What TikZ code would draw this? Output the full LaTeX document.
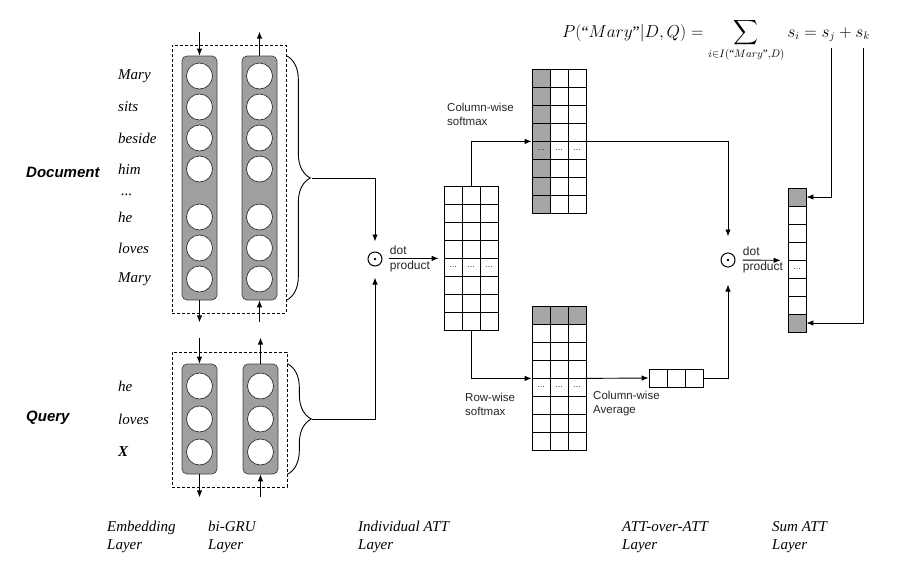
\documentclass[tikz,border=0pt]{standalone}
\usepackage{amsmath}
\usepackage{fontspec}
\setmainfont{Liberation Serif}
\setsansfont{Liberation Sans}
\usetikzlibrary{positioning,arrows.meta,calc,decorations.pathreplacing}
\tikzstyle{word}=[anchor=west, inner sep=0pt, font=\fontsize{15}{18}\selectfont\itshape]
\tikzstyle{side}=[anchor=west, inner sep=0pt, font=\fontsize{15}{18}\selectfont\sffamily\bfseries\itshape]
\tikzstyle{laylabel}=[anchor=west, align=left, inner sep=0pt, font=\fontsize{15}{18}\selectfont\itshape]
\tikzstyle{ptext}=[anchor=west, align=left, inner sep=0pt, text=black!85,
                   font=\fontsize{11.5}{14}\selectfont\sffamily]
\tikzstyle{dbox}=[rectangle, draw=black, dash pattern=on 3pt off 2pt, line width=0.7pt]
\tikzstyle{gbar}=[rectangle, rounded corners=5pt, draw=black!75, fill=gray!75,
                  minimum width=35pt, line width=0.7pt]
\tikzstyle{gunit}=[circle, draw=black!80, fill=white, minimum size=26pt, inner sep=0pt, line width=0.7pt]
\tikzstyle{cell}=[rectangle, draw=black, minimum width=18pt, minimum height=18pt,
                  inner sep=0pt, line width=0.8pt]
\tikzstyle{dots}=[inner sep=0pt, text=black!80, font=\fontsize{9}{10}\selectfont\sffamily]
\tikzstyle{odotn}=[circle, draw=black, minimum size=14pt, inner sep=0pt, line width=1pt,
                   path picture={\fill (path picture bounding box.center) circle (1.3pt);}]
\tikzstyle{pline}=[line width=0.9pt, >={Latex[length=7pt,width=5.5pt]}]
\tikzstyle{gbrace}=[decorate, decoration={brace, amplitude=24pt}, line width=0.9pt]

\begin{document}
\begin{tikzpicture}[x=1pt, y=-1pt]
\useasboundingbox (0,0) rectangle (911,584);

% document encoder
\node (dbox) [dbox, minimum width=114pt, minimum height=268pt] at (229,179) {};
\node (dL) [gbar, minimum height=244pt] at (199.5,178) {};
\node (dR) [gbar, minimum height=244pt] at (259.5,178) {};
\foreach \w/\y in {Mary/76,sits/107,beside/138,him/169,he/217,loves/248,Mary/279}{
  \node (dLu\y) [gunit] at (199.5,\y) {};
  \node (dRu\y) [gunit] at (259.5,\y) {};
  \node (dw\y) [word] at (118,\y) {\w};
}
\node (ddots) [word] at (121,195) {...};
\node (doc) [side] at (26,172) {Document};
\draw[pline,<-] (dL.north) -- ++(0,-24);
\draw[pline,->] (dR.north) -- ++(0,-24);
\draw[pline,->] (dL.south) -- ++(0,22);
\draw[pline,<-] (dR.south) -- ++(0,22);

% query encoder
\node (qbox) [dbox, minimum width=115pt, minimum height=135pt] at (229.5,419.5) {};
\node (qL) [gbar, minimum height=110pt] at (199.5,419) {};
\node (qR) [gbar, minimum height=110pt] at (260.5,419) {};
\foreach \w/\y in {he/386,loves/419,\textbf{X}/452}{
  \node (qLu\y) [gunit] at (199.5,\y) {};
  \node (qRu\y) [gunit] at (260.5,\y) {};
  \node (qw\y) [word] at (118,\y) {\w};
}
\node (qry) [side] at (26,418) {Query};
\draw[pline,<-] (qL.north) -- ++(0,-26);
\draw[pline,->] (qR.north) -- ++(0,-26);
\draw[pline,->] (qL.south) -- ++(0,23);
\draw[pline,<-] (qR.south) -- ++(0,23);

% braces
\draw[gbrace] (dbox.east |- dL.north) -- (dbox.east |- dL.south);
\draw[gbrace] (qbox.east |- qL.north) -- (qbox.east |- qL.south);
\coordinate (bD) at (312,178);
\coordinate (bQ) at (312,419);

% individual attention
\node (dot1) [odotn] at (375,259) {};
\draw[pline,->,shorten >=10pt] (bD) -| (dot1.north);
\draw[pline,->,shorten >=11pt] (bQ) -| (dot1.south);
\foreach \r in {1,...,8}{
  \foreach \c in {1,2,3}{
    \node (M-\r-\c) [cell] at (435+18*\c,177+18*\r) {};
  }
}
\foreach \c in {1,2,3} \node (Md\c) [dots] at (M-5-\c) {...};
\draw[pline,->,shorten <=6pt,shorten >=5pt] (dot1.east |- M-4-1.south west) -- (M-4-1.south west)
  node (dp1) [ptext, font=\fontsize{12}{15}\selectfont\sffamily] at ([xshift=7pt]dot1.east) {dot\\product};

% column-wise softmax
\foreach \r in {1,...,8}{
  \foreach \c in {1,2,3}{
    \ifnum\c=1 \def\f{gray!70}\else\def\f{white}\fi
    \node (C-\r-\c) [cell, fill=\f] at (523+18*\c,60+18*\r) {};
  }
}
\foreach \c in {1,2,3} \node (Cd\c) [dots] at (C-5-\c) {...};
\draw[pline,->] (M-1-2.north) |- (C-4-1.south west);
\node (cws) [ptext] at (447,114) {Column-wise\\softmax};

% row-wise softmax
\foreach \r in {1,...,8}{
  \foreach \c in {1,2,3}{
    \ifnum\r=1 \def\f{gray!70}\else\def\f{white}\fi
    \node (R-\r-\c) [cell, fill=\f] at (523+18*\c,297+18*\r) {};
  }
}
\foreach \c in {1,2,3} \node (Rd\c) [dots] at (R-5-\c) {...};
\draw[pline,->] (M-8-2.south) |- (R-4-1.south west);
\node (rws) [ptext] at (465,404) {Row-wise\\softmax};

% column-wise average
\foreach \c in {1,2,3} \node (V-\c) [cell] at (640+18*\c,378) {};
\draw[pline,->] (R-4-3.south east) -- (V-1.west);
\node (cwa) [ptext] at (593,404) {Column-wise\\Average};

% attention over attention
\node (dot2) [odotn] at (728,260) {};
\draw[pline,->,shorten >=16pt] (C-4-3.south east) -| (dot2.north);
\draw[pline,->,shorten >=17pt] (V-3.east) -| (dot2.south);

% sum attention
\foreach \r in {1,...,8}{
  \ifnum\r=1 \def\f{gray!70}\else\ifnum\r=8 \def\f{gray!70}\else\def\f{white}\fi\fi
  \node (S-\r) [cell, fill=\f] at (797,179+18*\r) {};
}
\node (Sd) [dots] at (S-5) {...};
\draw[pline,->,shorten <=7pt,shorten >=7pt] (dot2.east) -- (S-4.south west)
  node (dp2) [ptext, font=\fontsize{12}{15}\selectfont\sffamily] at ([xshift=7pt]dot2.east) {dot\\product};

\node (eq) [anchor=base west, inner sep=0pt, font=\fontsize{16}{18}\selectfont] at (562,37)
  {$\displaystyle P(\text{``}Mary\text{''}|D,Q) = \sum_{i\in I(\text{``}Mary\text{''},D)} s_i = s_j + s_k$};
\coordinate (sj) at (831,48);
\coordinate (sk) at (863,48);
\draw[pline,->] (sj) |- (S-1.east);
\draw[pline,->] (sk) |- (S-8.east);

% layer names
\node (lEmb) [laylabel] at (107,537) {Embedding\\Layer};
\node (lGru) [laylabel] at (208,537) {bi-GRU\\Layer};
\node (lInd) [laylabel] at (358,537) {Individual ATT\\Layer};
\node (lAoa) [laylabel] at (622,537) {ATT-over-ATT\\Layer};
\node (lSum) [laylabel] at (772,537) {Sum ATT\\Layer};

\end{tikzpicture}
\end{document}
